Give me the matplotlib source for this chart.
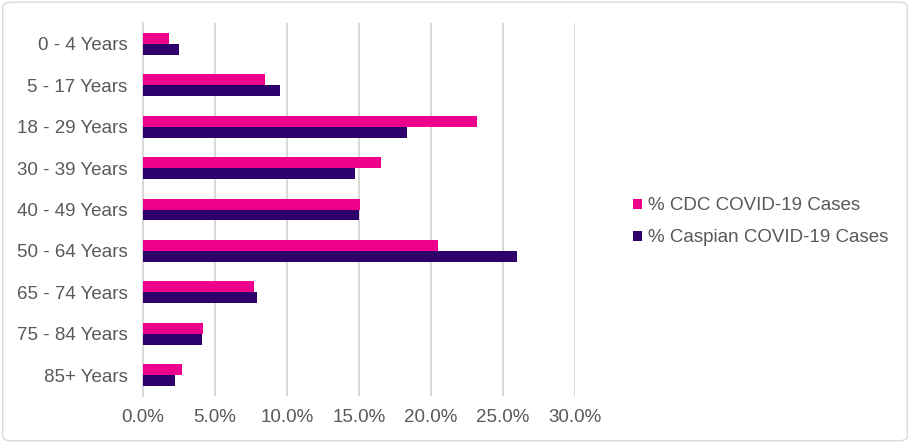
import numpy as np
import matplotlib.pyplot as plt
from matplotlib.patches import FancyBboxPatch
from matplotlib.ticker import PercentFormatter

plt.rcParams['font.family'] = ['Liberation Sans', 'DejaVu Sans']

age_groups = ['0 - 4 Years', '5 - 17 Years', '18 - 29 Years', '30 - 39 Years',
              '40 - 49 Years', '50 - 64 Years', '65 - 74 Years', '75 - 84 Years',
              '85+ Years']
cdc_pct = [1.8, 8.5, 23.2, 16.5, 15.1, 20.5, 7.7, 4.2, 2.7]
caspian_pct = [2.5, 9.5, 18.3, 14.7, 15.0, 26.0, 7.9, 4.1, 2.2]
x_ticks = [0, 5, 10, 15, 20, 25, 30]

PINK = '#EC008C'
PURPLE = '#2E006B'
GREY_TEXT = '#595959'
GRID = '#D9D9D9'
FS = 13.5

fig = plt.figure(figsize=(9.10, 4.43), dpi=100)
ax = fig.add_axes([143 / 910, 1 - 396 / 443, (575 - 143) / 910, (396 - 23) / 443])

y = np.arange(len(age_groups))
h = 0.265
ax.barh(y - h / 2, cdc_pct, height=h, color=PINK, label='% CDC COVID-19 Cases', zorder=3)
ax.barh(y + h / 2, caspian_pct, height=h, color=PURPLE, label='% Caspian COVID-19 Cases', zorder=3)

ax.set_ylim(len(age_groups) - 0.5, -0.5)
ax.set_yticks(y)
ax.set_yticklabels(age_groups)
ax.set_xlim(0, 30)
ax.set_xticks(x_ticks)
ax.xaxis.set_major_formatter(PercentFormatter(decimals=1))

ax.xaxis.grid(True, color=GRID, linewidth=1.5, zorder=0)
for s in ['top', 'right', 'bottom']:
    ax.spines[s].set_visible(False)
ax.spines['left'].set_color(GRID)
ax.spines['left'].set_linewidth(1.5)
ax.tick_params(axis='both', length=0, labelsize=FS, colors=GREY_TEXT)
ax.tick_params(axis='x', pad=9.5)
ax.tick_params(axis='y', pad=11)

fig.legend(loc='center left', bbox_to_anchor=(633 / 910, 1 - 222 / 443),
           frameon=False, fontsize=FS, labelcolor=GREY_TEXT,
           borderaxespad=0, borderpad=0,
           handlelength=0.5, handleheight=0.5, handletextpad=0.3,
           labelspacing=0.8)

border = FancyBboxPatch((0.003, 0.005), 0.994, 0.99, boxstyle='round,pad=0,rounding_size=0.01',
                        transform=fig.transFigure, facecolor='none', edgecolor='#D9D9D9',
                        linewidth=1)
fig.patches.append(border)

fig.savefig('out.png', dpi=100)
